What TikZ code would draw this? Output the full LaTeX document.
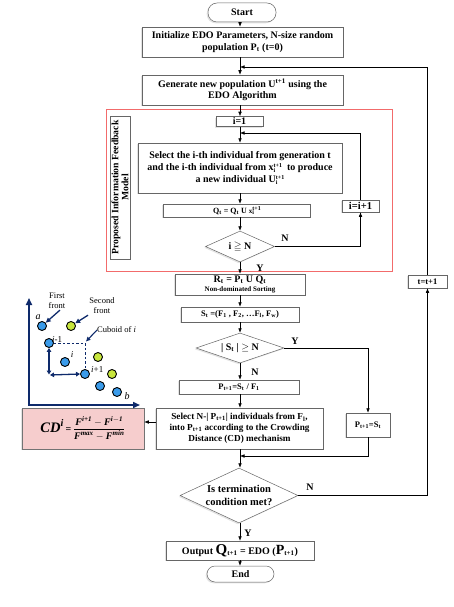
\documentclass[tikz,border=0pt]{standalone}
\usepackage{fontspec}
\usepackage{amsmath,amssymb}
\setmainfont{Liberation Serif}
\usetikzlibrary{arrows.meta,shapes.geometric,shadows}
\definecolor{navy}{HTML}{0E2A6B}
\definecolor{bluept}{HTML}{3A9BEA}
\definecolor{greenpt}{HTML}{C8E63C}
\definecolor{redframe}{HTML}{F26B6B}
\definecolor{pinkfill}{HTML}{F6CDCD}
\newcommand\ssp[2]{\rlap{\raisebox{-0.3ex}{\fontsize{6}{6}\selectfont #2}}\raisebox{0.65ex}{\fontsize{6}{6}\selectfont #1}}
\begin{document}
\begin{tikzpicture}[x=1pt,y=-1pt,
  box/.style={draw=black!60, fill=white, line width=0.5pt, align=center, inner sep=0pt,
    font=\bfseries\fontsize{10}{11.5}\selectfont,
    drop shadow={opacity=0.22, shadow xshift=-1.3pt, shadow yshift=-1.3pt}},
  small/.style={font=\bfseries\fontsize{8.5}{9.5}\selectfont},
  dia/.style={box, diamond, aspect=2.2},
  arr/.style={-{Latex[length=4.5pt,width=3.6pt]}, line width=0.6pt},
  lbl/.style={font=\bfseries\fontsize{10}{10}\selectfont, inner sep=0pt},
  bpt/.style={circle, draw=black, line width=0.9pt, fill=bluept, minimum size=9pt, inner sep=0pt},
  gpt/.style={circle, draw=black, line width=0.9pt, fill=greenpt, minimum size=9pt, inner sep=0pt},
  navyarr/.style={navy, line width=1.3pt, -{Triangle[length=5pt,width=4.5pt]}},
  plab/.style={font=\fontsize{8.5}{10}\selectfont, align=center, inner sep=0pt},
]
\useasboundingbox (0,0) rectangle (454,607);

% red frame
\draw[redframe, line width=0.9pt] (106,109) rectangle (392,271);

% main nodes
\node[box, rounded corners=9pt, minimum width=68, minimum height=19] (start) at (242,12.5) {Start};
\node[box, minimum width=201, minimum height=30] (init) at (242.5,42) {Initialize EDO Parameters, N-size random\\population P\textsubscript{t} (t=0)};
\node[box, minimum width=201, minimum height=30] (gen) at (242.5,90) {Generate new population U\textsuperscript{t+1} using the\\EDO Algorithm};
\node[draw=black!60, fill=white, rotate=90, minimum width=143, minimum height=20, inner sep=0pt, align=center, font=\bfseries\fontsize{9.7}{10}\selectfont] (pifm) at (120,187.5) {Proposed Information Feedback\\Model};
\node[box, minimum width=47, minimum height=10] (i1) at (239.5,121.5) {i=1};
\node[box, minimum width=204, minimum height=50, font=\bfseries\fontsize{10}{12}\selectfont] (sel) at (240,168) {Select the i-th individual from generation t\\and the i-th individual from x\ssp{t+1}{i}\ \ to produce\\a new individual U\ssp{t+1}{i}};
\node[box, font=\bfseries\fontsize{8}{9}\selectfont, minimum width=147, minimum height=13] (qt) at (237,210.5) {Q\textsubscript{t} = Q\textsubscript{t} U {\fontsize{7}{7}\selectfont x}\ssp{t+1}{i}};
\node[dia, minimum width=69, minimum height=31] (d1) at (240,246.5) {i $\geqq$ N};
\node[box, font=\bfseries\fontsize{10.5}{11}\selectfont, minimum width=37, minimum height=12] (ii1) at (360.5,206) {i=i+1};
\node[box, minimum width=130, minimum height=21] (rt) at (240,284.5) {R\textsubscript{t} = P\textsubscript{t} U Q\textsubscript{t}\\[-2pt]{\fontsize{7}{7}\selectfont Non-dominated Sorting}};
\node[box, small, minimum width=118, minimum height=15] (st) at (240,314.5) {S\textsubscript{t} =(F\textsubscript{1} , F\textsubscript{2}, …F\textsubscript{l}, F\textsubscript{w})};
\node[dia, aspect=2.9, minimum width=88, minimum height=30] (d2) at (240,348) {| S\textsubscript{t} | $\geq$ N};
\node[box, small, minimum width=120, minimum height=14] (pf) at (239,387) {P\textsubscript{t+1}=S\textsubscript{t} / F\textsubscript{1}};
\node[box, font=\bfseries\fontsize{9.2}{11}\selectfont, minimum width=167, minimum height=41] (seln) at (239.5,428.5) {Select N-| P\textsubscript{t+1}| individuals from F\textsubscript{l},\\into P\textsubscript{t+1} according to the Crowding\\Distance (CD) mechanism};
\node[box, small, minimum width=44, minimum height=24] (ps) at (368,425) {P\textsubscript{t+1}=S\textsubscript{t}};
\node[dia, font=\bfseries\fontsize{10.5}{12.5}\selectfont, minimum width=118, minimum height=55] (d3) at (239,495.5) {Is termination\\condition met?};
\node[box, small, minimum width=39, minimum height=13] (tt) at (427.5,281.5) {t=t+1};
\node[box, minimum width=148, minimum height=19] (out) at (240,550.5) {Output {\fontsize{15}{15}\selectfont Q}\textsubscript{t+1} = EDO ({\fontsize{14}{14}\selectfont P}\textsubscript{t+1})};
\node[box, rounded corners=8pt, minimum width=67, minimum height=16] (end) at (240.5,574) {End};

% junction coordinates
\coordinate (tj) at (240,67);
\coordinate (ij) at (240,133);
\coordinate (sj) at (240,456);

% connectors
\draw[arr] (start.south -| tj) -- (init.north -| tj);
\draw[arr] (init.south -| tj) -- (gen.north -| tj);
\draw[arr] (gen.south -| tj) -- (i1.north -| tj);
\draw[arr] (i1.south -| tj) -- (sel.north -| tj);
\draw[arr] (sel.south -| tj) -- (qt.north -| tj);
\draw[arr] (qt.south -| tj) -- (d1.north);
\draw[arr] (d1.east) -| (ii1.south);
\draw[arr] (ii1.north) |- (ij);
\draw[arr] (d1.south) -- (rt.north -| d1.south);
\draw[arr] (rt.south -| tj) -- (st.north -| tj);
\draw[arr] (st.south -| tj) -- (d2.north);
\draw[arr] (d2.south) -- (pf.north -| d2.south);
\draw[arr] (d2.east) -| (ps.north);
\draw[arr] (pf.south -| tj) -- (seln.north -| tj);
\draw[arr] (seln.south -| sj) -- (d3.north -| sj);
\draw[arr] (ps.south) |- (sj);
\draw[arr] (d3.east) -| (tt.south);
\draw[arr] (tt.north) |- (tj);
\draw[arr] (d3.south -| sj) -- (out.north -| sj);
\draw[arr] (out.south -| sj) -- (end.north -| sj);

% branch labels
\node[lbl] (n1) at (285,238) {N};
\node[lbl] (y1) at (260,268) {Y};
\node[lbl] (y2) at (295,341) {Y};
\node[lbl] (n2) at (255,372) {N};
\node[lbl] (n3) at (310,487) {N};
\node[lbl] (y3) at (248,533) {Y};

% CD formula box
\node[draw=black!55, fill=pinkfill, line width=0.5pt, minimum width=122, minimum height=41, inner sep=0pt,
  font=\bfseries\itshape\fontsize{10}{11}\selectfont,
  drop shadow={opacity=0.22, shadow xshift=-1.3pt, shadow yshift=-1.3pt}] (cd) at (83,428.5)
  {{\fontsize{14.5}{15}\selectfont CD\textsuperscript{i}}\,{\upshape =}\,$\dfrac{\text{F}^{\text{i+1}} - \text{F}^{\text{i}-\text{1}}}{\text{F}^{\text{max}} - \text{F}^{\text{min}}}$};
\draw[arr] (seln.west |- 0,422) -- (cd.east |- 0,422);

% scatter plot
\draw[navy, line width=1.6pt, -{Triangle[length=7pt,width=6pt]}] (29,405) -- (29,298);
\draw[navy, line width=1.6pt, -{Triangle[length=7pt,width=6pt]}] (28.2,405) -- (140,405);

\node[bpt] (pa) at (42,326) {};
\node[gpt] (pg1) at (71,326) {};
\node[bpt] (pim1) at (49,343) {};
\node[bpt] (pi) at (65,362) {};
\node[bpt] (pip1) at (85,374) {};
\node[gpt] (pg2) at (98,357) {};
\node[gpt] (pg3) at (112,374) {};
\node[bpt] (pb1) at (100,386) {};
\node[bpt] (pb) at (117,392) {};

\draw[navy, line width=1pt, dash pattern=on 2.5pt off 2pt] (pim1) -- (85,343) -- (pip1);
\draw[navy, line width=1.3pt, {Triangle[length=4pt,width=4.5pt]}-{Triangle[length=4pt,width=4.5pt]}] (pim1.south) -- (49,374.5);
\draw[navy, line width=1.3pt, {Triangle[length=4pt,width=4.5pt]}-{Triangle[length=4pt,width=4.5pt]}] (50,375) -- (pip1.west);

\node[plab] (ff) at (57,301) {First\\front};
\node[plab] (sf) at (102,306) {Second\\front};
\node[plab, anchor=west] (cub) at (97,330) {Cuboid of \textit{i}};
\draw[navyarr] ([xshift=3pt,yshift=-1pt]ff.south) -- (pa);
\draw[navyarr] ([xshift=-14pt,yshift=-1pt]sf.south) -- (pg1);
\draw[navy, line width=1.1pt, -{Triangle[length=4.5pt,width=4pt]}] (cub.west) -- (86,341.5);

\node[font=\itshape\fontsize{10}{10}\selectfont, inner sep=0pt] (la) at (38,317) {a};
\node[font=\itshape\fontsize{10}{10}\selectfont, inner sep=0pt] (lb) at (127,396) {b};
\node[font=\fontsize{9}{9}\selectfont, inner sep=0pt, anchor=west] (lim1) at (52,340) {\textit{i}-1};
\node[font=\itshape\fontsize{9}{9}\selectfont, inner sep=0pt] (li) at (72,355) {i};
\node[font=\fontsize{9}{9}\selectfont, inner sep=0pt, anchor=west] (lip1) at (91,370) {\textit{i}+1};
\end{tikzpicture}
\end{document}
